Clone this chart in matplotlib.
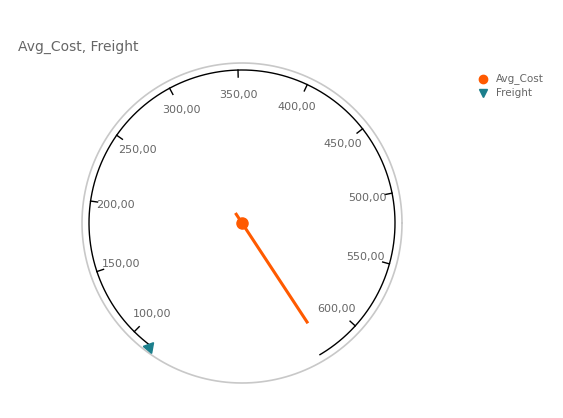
import numpy as np
import matplotlib
matplotlib.use("Agg")
import matplotlib.pyplot as plt

# gauge data
scale_min, scale_max = 85, 632
tick_values = [100, 150, 200, 250, 300, 350, 400, 450, 500, 550, 600]
tick_labels = [f"{v},00" for v in tick_values]
avg_cost = 627
freight = 85

W, H = 563, 418
CX, CY = 242, 223
R_ARC = 153
R_OUT = 160
DEG_PER_UNIT = 0.535
OFFSET = -1.5
ORANGE = '#FF5A00'
TEAL = '#1B7F8C'
GRAY = '#666666'


def ang(v):
    # clockwise degrees from top -> radians in standard math orientation
    a = (v - 350) * DEG_PER_UNIT + OFFSET
    return np.radians(90 - a)


def pt(v, r):
    t = ang(v)
    return CX + r * np.cos(t), CY - r * np.sin(t)


fig = plt.figure(figsize=(W / 100, H / 100), dpi=100)
ax = fig.add_axes([0, 0, 1, 1])
ax.set_xlim(0, W)
ax.set_ylim(H, 0)
ax.axis('off')

# outer gray ring
t = np.linspace(0, 2 * np.pi, 400)
ax.plot(CX + R_OUT * np.cos(t), CY + R_OUT * np.sin(t), color='#c8c8c8', lw=1.2)

# scale arc
vals = np.linspace(scale_min, scale_max, 300)
xs, ys = zip(*[pt(v, R_ARC) for v in vals])
ax.plot(xs, ys, color='black', lw=1)

for v, lab in zip(tick_values, tick_labels):
    x0, y0 = pt(v, R_ARC)
    x1, y1 = pt(v, R_ARC - 7)
    ax.plot([x0, x1], [y0, y1], color='black', lw=1)
    lx, ly = pt(v, 128)
    ax.text(lx, ly, lab, ha='center', va='center', fontsize=8, color=GRAY)

# Avg_Cost needle
tx, ty = pt(avg_cost, 120)
bx, by = pt(avg_cost, -12)
ax.plot([bx, tx], [by, ty], color=ORANGE, lw=2.2, solid_capstyle='butt')
ax.plot(CX, CY, 'o', color=ORANGE, ms=8)

# Freight marker
fx, fy = pt(freight, R_ARC + 2)
ax.plot(fx, fy, marker=(3, 0, 200), color=TEAL, ms=9)

ax.text(18, 47, "Avg_Cost, Freight", fontsize=10, color=GRAY, va='center')

# legend
ax.plot(483, 79, 'o', color=ORANGE, ms=6)
ax.text(496, 79, "Avg_Cost", fontsize=7.5, color=GRAY, va='center')
ax.plot(483, 93, 'v', color=TEAL, ms=6)
ax.text(496, 93, "Freight", fontsize=7.5, color=GRAY, va='center')

fig.savefig("out.png", dpi=100)
